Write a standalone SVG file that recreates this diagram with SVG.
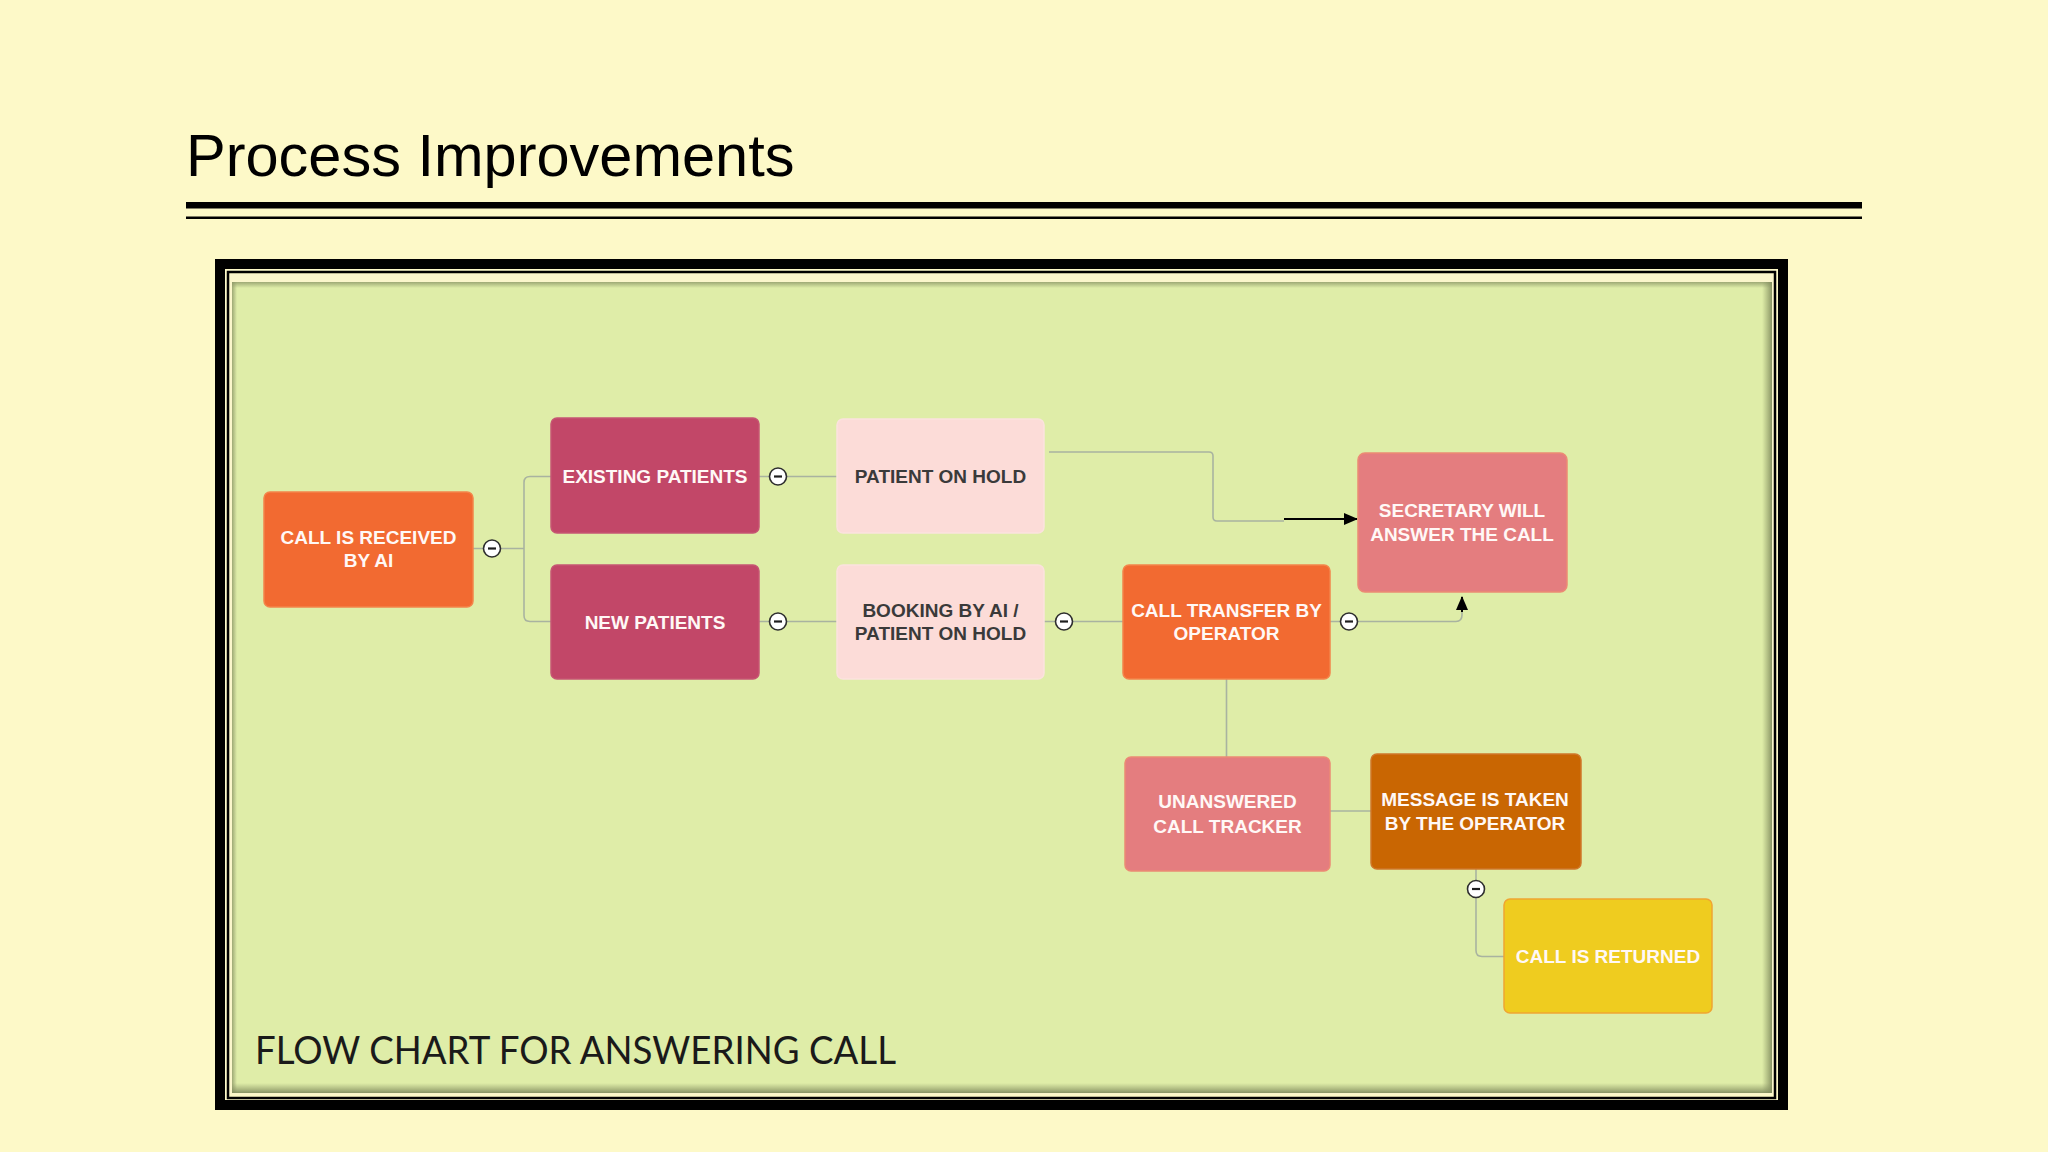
<svg xmlns="http://www.w3.org/2000/svg" width="2048" height="1152" viewBox="0 0 2048 1152">
<defs>
<style>
.node text{font-family:"Liberation Sans",Arial,sans-serif;font-weight:bold;font-size:19px;text-anchor:middle;fill:#FFF8F6}
.node .dk{fill:#3A3A3A}
.conn{fill:none;stroke:#A9B3A0;stroke-width:1.6}
.arrow{fill:none;stroke:#000;stroke-width:2}
.tog circle{fill:#fff;stroke:#2E2E2E;stroke-width:1.6}
.tog line{stroke:#1E1E1E;stroke-width:2.2}
</style>
<marker id="ah" markerWidth="14" markerHeight="12" refX="13" refY="6" orient="auto" markerUnits="userSpaceOnUse">
<path d="M0,0 L14,6 L0,12 z" fill="#000"/>
</marker>
<linearGradient id="shR" x1="0" y1="0" x2="1" y2="0"><stop offset="0" stop-color="#8E9868" stop-opacity="0"/><stop offset="1" stop-color="#7F8A5C" stop-opacity="0.9"/></linearGradient>
<linearGradient id="shB" x1="0" y1="0" x2="0" y2="1"><stop offset="0" stop-color="#8E9868" stop-opacity="0"/><stop offset="1" stop-color="#7F8A5C" stop-opacity="0.9"/></linearGradient>
<linearGradient id="shT" x1="0" y1="0" x2="0" y2="1"><stop offset="0" stop-color="#8E9868" stop-opacity="0.8"/><stop offset="1" stop-color="#8E9868" stop-opacity="0"/></linearGradient>
<linearGradient id="shL" x1="0" y1="0" x2="1" y2="0"><stop offset="0" stop-color="#8E9868" stop-opacity="0.8"/><stop offset="1" stop-color="#8E9868" stop-opacity="0"/></linearGradient>
</defs>
<rect width="2048" height="1152" fill="#FDF9C8"/>
<g id="title">
<text x="186" y="176" font-family="Liberation Sans,Arial,sans-serif" font-size="59.5" fill="#000">Process Improvements</text>
<rect x="186" y="202" width="1676" height="6.5" fill="#000"/>
<rect x="186" y="216.5" width="1676" height="2.5" fill="#000"/>
</g>
<g id="frame">
<rect x="220" y="264" width="1563" height="841" fill="none" stroke="#000" stroke-width="10"/>
<rect x="228" y="272" width="1547" height="826" fill="none" stroke="#000" stroke-width="2.5"/>
<rect x="230" y="274" width="1543" height="820" fill="#FBF6CB"/>
<rect x="232" y="282" width="1540" height="811" fill="#DFEDA8"/>
<rect x="232" y="282" width="1540" height="6" fill="url(#shT)"/>
<rect x="232" y="282" width="5" height="811" fill="url(#shL)"/>
<rect x="1762" y="282" width="10" height="811" fill="url(#shR)"/>
<rect x="232" y="1083" width="1540" height="10" fill="url(#shB)"/>
<text x="255" y="1064" font-family="Lato,Open Sans,sans-serif" font-size="39" fill="#1A1A1A" textLength="641" lengthAdjust="spacingAndGlyphs">FLOW CHART FOR ANSWERING CALL</text>
</g>
<g id="connectors">
<path class="conn" d="M473,548.5 H524"/>
<path class="conn" d="M551,476.5 H530 Q524,476.5 524,482.5 V615.5 Q524,621.5 530,621.5 H551"/>
<path class="conn" d="M759,476.5 H837"/>
<path class="conn" d="M759,621.5 H837"/>
<path class="conn" d="M1049,452 H1209 Q1213,452 1213,456 V517 Q1213,521 1217,521 H1284"/>
<path class="arrow" d="M1284,519 H1357" marker-end="url(#ah)"/>
<path class="conn" d="M1044,621.5 H1123"/>
<path class="conn" d="M1330,621.5 H1456 Q1462,621.5 1462,615 V611"/>
<path class="arrow" d="M1462,612 V597" marker-end="url(#ah)"/>
<path class="conn" d="M1226.5,679 V757"/>
<path class="conn" d="M1330,811 H1371"/>
<path class="conn" d="M1476,869 V950.5 Q1476,956.5 1482,956.5 H1504"/>
<g class="tog"><circle cx="492" cy="548.5" r="8.5"/><line x1="488" y1="548.5" x2="496" y2="548.5"/></g>
<g class="tog"><circle cx="778" cy="476.5" r="8.5"/><line x1="774" y1="476.5" x2="782" y2="476.5"/></g>
<g class="tog"><circle cx="778" cy="621.5" r="8.5"/><line x1="774" y1="621.5" x2="782" y2="621.5"/></g>
<g class="tog"><circle cx="1064" cy="621.5" r="8.5"/><line x1="1060" y1="621.5" x2="1068" y2="621.5"/></g>
<g class="tog"><circle cx="1349" cy="621.5" r="8.5"/><line x1="1345" y1="621.5" x2="1353" y2="621.5"/></g>
<g class="tog"><circle cx="1476" cy="889" r="8.5"/><line x1="1472" y1="889" x2="1480" y2="889"/></g>
</g>
<g id="n-call-received" class="node">
<rect x="264" y="492" width="209" height="115" rx="6" fill="#F26A31" stroke="#F4844A" stroke-width="1.5"/>
<text x="368.5" y="544">CALL IS RECEIVED</text>
<text x="368.5" y="567">BY AI</text>
</g>
<g id="n-existing" class="node">
<rect x="551" y="418" width="208" height="115" rx="6" fill="#C24768" stroke="#C65573" stroke-width="1.5"/>
<text x="655" y="483">EXISTING PATIENTS</text>
</g>
<g id="n-new" class="node">
<rect x="551" y="565" width="208" height="114" rx="6" fill="#C24768" stroke="#C65573" stroke-width="1.5"/>
<text x="655" y="629">NEW PATIENTS</text>
</g>
<g id="n-hold" class="node">
<rect x="837" y="419" width="207" height="114" rx="6" fill="#FCDCD8" stroke="#FBE2DE" stroke-width="1.5"/>
<text class="dk" x="940.5" y="483">PATIENT ON HOLD</text>
</g>
<g id="n-booking" class="node">
<rect x="837" y="565" width="207" height="114" rx="6" fill="#FCDCD8" stroke="#FBE2DE" stroke-width="1.5"/>
<text class="dk" x="940.5" y="617">BOOKING BY AI /</text>
<text class="dk" x="940.5" y="640">PATIENT ON HOLD</text>
</g>
<g id="n-transfer" class="node">
<rect x="1123" y="565" width="207" height="114" rx="6" fill="#F26A31" stroke="#F4844A" stroke-width="1.5"/>
<text x="1226.5" y="617">CALL TRANSFER BY</text>
<text x="1226.5" y="640">OPERATOR</text>
</g>
<g id="n-secretary" class="node">
<rect x="1358" y="453" width="209" height="139" rx="7" fill="#E47D7F" stroke="#EC8A74" stroke-width="1.5"/>
<text x="1462" y="517">SECRETARY WILL</text>
<text x="1462" y="541">ANSWER THE CALL</text>
</g>
<g id="n-unanswered" class="node">
<rect x="1125" y="757" width="205" height="114" rx="6" fill="#E47D7F" stroke="#EC8A74" stroke-width="1.5"/>
<text x="1227.5" y="808">UNANSWERED</text>
<text x="1227.5" y="832.5">CALL TRACKER</text>
</g>
<g id="n-message" class="node">
<rect x="1371" y="754" width="210" height="115" rx="6" fill="#C96602" stroke="#D0772A" stroke-width="1.5"/>
<text x="1475" y="806">MESSAGE IS TAKEN</text>
<text x="1475" y="830">BY THE OPERATOR</text>
</g>
<g id="n-returned" class="node">
<rect x="1504" y="899" width="208" height="114" rx="6" fill="#EFCC1F" stroke="#F0A532" stroke-width="1.5"/>
<text x="1608" y="963">CALL IS RETURNED</text>
</g>
</svg>
